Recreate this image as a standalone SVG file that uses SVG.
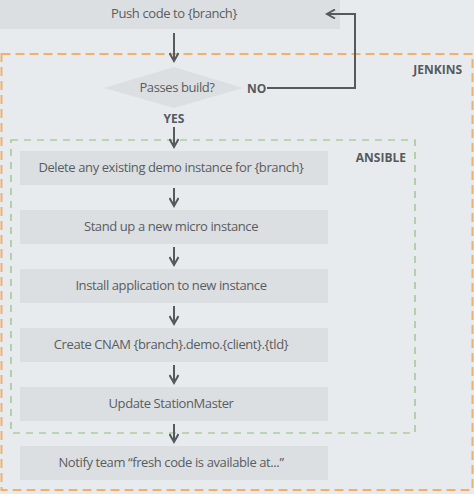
<svg xmlns="http://www.w3.org/2000/svg" width="474" height="494" viewBox="0 0 474 494">
<defs>
<marker id="ah" viewBox="0 0 12 10" refX="9" refY="5" markerWidth="12" markerHeight="10" markerUnits="userSpaceOnUse" orient="auto">
<path d="M1,0.5 L9,5 L1,9.5" fill="none" stroke="#555a5e" stroke-width="2"/>
</marker>
<style>
.box{fill:#dcdfe2}
.t{font-family:"Open Sans","Liberation Sans",sans-serif;font-size:13px;letter-spacing:-0.4px;fill:#585d61;text-anchor:middle}
.lbl{font-family:"Open Sans","Liberation Sans",sans-serif;font-size:12px;font-weight:bold;fill:#555a5e}
.c{fill:none;stroke:#555a5e;stroke-width:2}
</style>
</defs>
<rect width="474" height="494" fill="#e8ebee"/>
<g id="jenkins">
<rect x="1.5" y="54" width="471" height="436" fill="none" stroke="#f3b06c" stroke-width="2" stroke-dasharray="9,5"/>
<text class="lbl" x="462" y="74" text-anchor="end">JENKINS</text>
</g>
<g id="ansible">
<rect x="11" y="140" width="404" height="293" fill="none" stroke="#8cc07a" stroke-width="1.2" stroke-dasharray="7,6"/>
<text class="lbl" x="406" y="162" text-anchor="end">ANSIBLE</text>
</g>
<g id="push">
<rect class="box" x="0" y="0" width="340" height="29"/>
<text class="t" x="174" y="18">Push code to {branch}</text>
</g>
<g id="decision">
<polygon class="box" points="104,88 174,67 243,88 174,108"/>
<text class="t" x="177" y="92">Passes build?</text>
</g>
<g id="n1">
<rect class="box" x="20" y="151" width="308" height="34"/>
<text class="t" x="171" y="172">Delete any existing demo instance for {branch}</text>
</g>
<g id="n2">
<rect class="box" x="20" y="210" width="308" height="34"/>
<text class="t" x="171" y="231">Stand up a new micro instance</text>
</g>
<g id="n3">
<rect class="box" x="20" y="269" width="308" height="34"/>
<text class="t" x="171" y="290">Install application to new instance</text>
</g>
<g id="n4">
<rect class="box" x="20" y="328" width="308" height="34"/>
<text class="t" x="171" y="349">Create CNAM {branch}.demo.{client}.{tld}</text>
</g>
<g id="n5">
<rect class="box" x="20" y="387" width="308" height="34"/>
<text class="t" x="171" y="408">Update StationMaster</text>
</g>
<g id="n6">
<rect class="box" x="20" y="446" width="308" height="34"/>
<text class="t" x="171" y="467">Notify team “fresh code is available at...”</text>
</g>
<g id="connectors">
<line class="c" x1="174" y1="33" x2="174" y2="61" marker-end="url(#ah)"/>
<text class="lbl" x="247" y="93">NO</text>
<polyline class="c" points="267,88 355,88 355,14 327,14" marker-end="url(#ah)"/>
<text class="lbl" x="174" y="123" text-anchor="middle">YES</text>
<line class="c" x1="174" y1="127" x2="174" y2="147" marker-end="url(#ah)"/>
<line class="c" x1="174" y1="188" x2="174" y2="206" marker-end="url(#ah)"/>
<line class="c" x1="174" y1="247" x2="174" y2="265" marker-end="url(#ah)"/>
<line class="c" x1="174" y1="306" x2="174" y2="324" marker-end="url(#ah)"/>
<line class="c" x1="174" y1="365" x2="174" y2="383" marker-end="url(#ah)"/>
<line class="c" x1="174" y1="424" x2="174" y2="442" marker-end="url(#ah)"/>
</g>
</svg>
